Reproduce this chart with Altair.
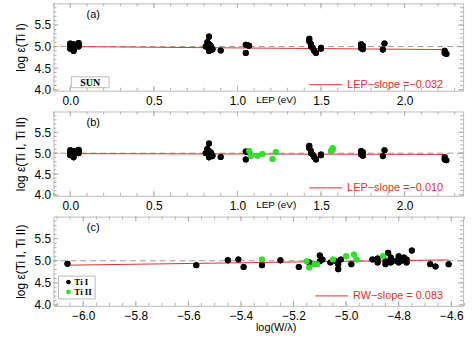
import altair as alt
import pandas as pd
import numpy as np

# ---------------- data ----------------
# Panel (a)/(b): Ti I lines, LEP (eV) and abundance
lep_ti1 = [0.00, 0.00, 0.00, 0.02, 0.02, 0.02, 0.02, 0.05, 0.05, 0.05, 0.05, 0.03,
           0.81, 0.82, 0.83, 0.83, 0.84, 0.84, 0.85, 0.85, 0.83, 0.84, 0.90,
           1.05, 1.05, 1.07, 1.06,
           1.43, 1.43, 1.44, 1.44, 1.45, 1.46, 1.47, 1.50, 1.50,
           1.74, 1.74, 1.74, 1.75, 1.75,
           1.87, 1.88,
           2.24, 2.24, 2.25]
ab_ti1 = [5.02, 4.95, 5.07, 5.05, 4.93, 4.98, 4.90, 5.08, 5.00, 5.03, 5.06, 5.01,
          5.00, 5.10, 5.23, 5.05, 5.02, 4.98, 4.95, 4.93, 4.90, 4.97, 4.91,
          5.04, 4.85, 5.02, 5.03,
          5.18, 5.12, 5.05, 5.00, 4.97, 4.90, 4.85, 4.97, 4.95,
          5.05, 5.00, 4.97, 4.94, 5.02,
          4.93, 5.07,
          4.90, 4.85, 4.83]
# Panel (b): Ti II lines
lep_ti2 = [1.07, 1.08, 1.12, 1.15, 1.21, 1.23, 1.56, 1.57, 1.57]
ab_ti2 = [5.05, 4.93, 4.94, 4.98, 4.86, 5.03, 5.05, 5.12, 5.08]

# Panel (c): reduced width log(W/lambda)
rw_ti1 = [-6.06, -5.57, -5.45, -5.41, -5.39, -5.32, -5.25, -5.18, -5.14, -5.10, -5.10,
          -5.09, -5.06, -5.04, -5.03, -5.03, -5.02, -4.98, -4.90, -4.88, -4.88, -4.85,
          -4.85, -4.84, -4.83, -4.83, -4.81, -4.80, -4.80, -4.79, -4.78, -4.77, -4.77,
          -4.75, -4.68, -4.66, -4.61]
abw_ti1 = [4.93, 4.90, 5.01, 5.03, 4.86, 4.90, 5.01, 4.86, 4.96, 5.12, 4.99,
           5.03, 4.96, 4.99, 4.92, 4.81, 5.03, 4.92, 5.03, 4.96, 5.05, 4.92,
           4.99, 5.18, 5.07, 4.96, 5.00, 5.10, 4.96, 5.00, 5.07, 4.96, 5.03,
           5.23, 4.92, 4.87, 4.92]
rw_ti2 = [-5.32, -5.15, -5.14, -5.12, -5.11, -5.05, -5.00, -4.97, -4.96, -4.86]
abw_ti2 = [5.03, 4.99, 4.85, 4.92, 4.92, 5.03, 5.10, 5.14, 5.03, 5.10]

# fitted lines (end points)
fit_a_x = [0.00, 2.25]
fit_a_y = [5.00, 4.93]
fit_b_x = [0.00, 2.25]
fit_b_y = [4.99, 4.97]
fit_c_x = [-6.06, -4.61]
fit_c_y = [4.90, 5.02]

lep_ticks = [0.0, 0.5, 1.0, 1.5, 2.0]
rw_ticks = [-6.0, -5.8, -5.6, -5.4, -5.2, -5.0, -4.8, -4.6]
y_ticks = [4.0, 4.5, 5.0, 5.5]
y_minor = [round(4.0 + 0.1 * i, 2) for i in range(20)]
lep_minor = [round(-0.1 + 0.1 * i, 2) for i in range(25)]
rw_minor = [round(-6.1 + 0.05 * i, 3) for i in range(32)]

slope_a = "LEP\u2212slope =\u22120.032"
slope_b = "LEP\u2212slope =\u22120.010"
slope_c = "RW\u2212slope = 0.083"

# ---------------- styling ----------------
W = 413
FONT = "Liberation Sans"
SERIF = "Liberation Serif"
RED = "#e4302c"
TICKC = "#b0b0b0"
GREEN = "#2fe02f"
YDOM = [3.98, 6.0]


def tick_layers(xs, ys, xaxis, yaxis, H, xminor, xmajor):
    layers = []
    for vals, L in ((y_minor, 3), (y_ticks, 5)):
        d = pd.DataFrame({"v": vals})
        base = alt.Chart(d).mark_rule(color=TICKC, strokeWidth=1)
        layers.append(base.encode(y=alt.Y("v:Q", scale=ys, axis=yaxis),
                                  x=alt.value(0), x2=alt.value(L)))
        layers.append(base.encode(y=alt.Y("v:Q", scale=ys, axis=yaxis),
                                  x=alt.value(W - L), x2=alt.value(W)))
    for vals, L in ((xminor, 3), (xmajor, 5)):
        d = pd.DataFrame({"v": vals})
        base = alt.Chart(d).mark_rule(color=TICKC, strokeWidth=1)
        layers.append(base.encode(x=alt.X("v:Q", scale=xs, axis=xaxis),
                                  y=alt.value(H), y2=alt.value(H - L)))
        layers.append(base.encode(x=alt.X("v:Q", scale=xs, axis=xaxis),
                                  y=alt.value(0), y2=alt.value(L)))
    return layers


def text(t, x, y, size=11, color="black", font=FONT, weight="normal", align="left"):
    return alt.Chart(pd.DataFrame({"t": [t]})).mark_text(
        align=align, baseline="middle", fontSize=size, font=font,
        fontWeight=weight, color=color).encode(
        text="t:N", x=alt.value(x), y=alt.value(y))


def panel(H, xdom, xticks, xminor, xtitle, xtitle_y, xtitle_size, ytitle,
          pts, fitx, fity, tag, slope_txt, slope_y, slope_x0, dash=True, extra=None):
    xs = alt.Scale(domain=xdom, nice=False, zero=False)
    ys = alt.Scale(domain=YDOM, nice=False, zero=False)
    xaxis = alt.Axis(values=xticks, format=".1f", title=xtitle, titleX=224,
                     titleY=xtitle_y, titleBaseline="middle", titleFontSize=xtitle_size,
                     titleFontWeight="normal", titleFont=FONT, titleColor="black",
                     labelFont=FONT, labelFontSize=12, labelColor="black",
                     labelPadding=5, tickSize=0, domain=False, grid=False,
                     labelFlush=False)
    yaxis = alt.Axis(values=y_ticks, format=".1f", title=ytitle, titleX=-33,
                     titleY=H / 2, titleBaseline="middle", titleAlign="center",
                     titleFontSize=12, titleFontWeight="normal", titleFont=FONT,
                     titleColor="black", labelFont=FONT, labelFontSize=12,
                     labelColor="black", labelPadding=3, tickSize=0, domain=False,
                     grid=False)
    layers = [alt.Chart(pts).mark_circle(size=38, opacity=1).encode(
        x=alt.X("x:Q", scale=xs, axis=xaxis),
        y=alt.Y("y:Q", scale=ys, axis=yaxis),
        color=alt.Color("s:N", scale=alt.Scale(domain=["Ti I", "Ti II"],
                                               range=["black", GREEN]), legend=None))]
    layers += tick_layers(xs, ys, xaxis, yaxis, H, xminor, xticks)
    if dash:
        layers.append(alt.Chart(pd.DataFrame({"y": [5.0]})).mark_rule(
            color="#9a9a9a", strokeDash=[6, 4], strokeWidth=1).encode(
            y=alt.Y("y:Q", scale=ys, axis=yaxis)))
    fit = pd.DataFrame({"x": fitx, "y": fity})
    layers.append(alt.Chart(fit).mark_line(color=RED, strokeWidth=1).encode(
        x=alt.X("x:Q", scale=xs, axis=xaxis), y=alt.Y("y:Q", scale=ys, axis=yaxis)))
    # redraw points on top
    layers.append(layers[0])
    # tag
    layers.append(text(tag, 40, 12, size=11, align="center"))
    # slope legend
    layers.append(alt.Chart(pd.DataFrame({"a": [0]})).mark_rule(color=RED, strokeWidth=1).encode(
        x=alt.value(slope_x0), x2=alt.value(slope_x0 + 33), y=alt.value(slope_y)))
    layers.append(text(slope_txt, slope_x0 + 38, slope_y, size=11, color=RED))
    if extra:
        layers.extend(extra)
    return alt.layer(*layers).properties(width=W, height=H)


pts_a = pd.DataFrame({"x": lep_ti1, "y": ab_ti1, "s": ["Ti I"] * len(lep_ti1)})
pts_b = pd.DataFrame({"x": lep_ti1 + lep_ti2, "y": ab_ti1 + ab_ti2,
                      "s": ["Ti I"] * len(lep_ti1) + ["Ti II"] * len(lep_ti2)})
pts_c = pd.DataFrame({"x": rw_ti1 + rw_ti2, "y": abw_ti1 + abw_ti2,
                      "s": ["Ti I"] * len(rw_ti1) + ["Ti II"] * len(rw_ti2)})

# SUN box
sun_extra = [
    alt.Chart(pd.DataFrame({"a": [0]})).mark_rect(fill="white", stroke="#bbbbbb", strokeWidth=1).encode(
        x=alt.value(18), x2=alt.value(56), y=alt.value(74), y2=alt.value(85)),
    text("SUN", 37, 80, size=10, font=SERIF, weight="bold", align="center"),
]
# Ti I / Ti II legend box
leg_extra = [
    alt.Chart(pd.DataFrame({"a": [0]})).mark_rect(fill="white", stroke="#bbbbbb", strokeWidth=1).encode(
        x=alt.value(5), x2=alt.value(42), y=alt.value(60), y2=alt.value(83)),
    alt.Chart(pd.DataFrame({"a": [0]})).mark_circle(size=22, opacity=1, color="black").encode(
        x=alt.value(15), y=alt.value(66)),
    alt.Chart(pd.DataFrame({"a": [0]})).mark_circle(size=22, opacity=1, color=GREEN).encode(
        x=alt.value(15), y=alt.value(76)),
    text("Ti I", 21, 66, size=9, font=SERIF, weight="bold"),
    text("Ti II", 21, 76, size=9, font=SERIF, weight="bold"),
]

pa = panel(88, [-0.1, 2.35], lep_ticks, lep_minor, "LEP (eV)", 9, 10,
           "log \u03b5(Ti I)", pts_a, fit_a_x, fit_a_y, "(a)", slope_a, 82, 258,
           dash=True, extra=sun_extra)
pb = panel(85, [-0.1, 2.35], lep_ticks, lep_minor, "LEP (eV)", 9, 10,
           "log \u03b5(Ti I,  Ti II)", pts_b, fit_b_x, fit_b_y, "(b)", slope_b, 77, 258,
           dash=True)
pc = panel(90, [-6.113, -4.555], rw_ticks, rw_minor, "log(W/\u03bb)", 22, 11,
           "log \u03b5(Ti I,  Ti II)", pts_c, fit_c_x, fit_c_y, "(c)", slope_c, 80, 264,
           dash=True, extra=leg_extra)

chart = alt.vconcat(pa, pb, pc, spacing=21, bounds="flush").properties(
    padding={"left": 14, "top": 1, "right": 8, "bottom": 0},
    background="white",
).configure_view(stroke="#bbbbbb", strokeWidth=1)

chart.save("out.html", embed_options={"renderer": "svg", "actions": False})
